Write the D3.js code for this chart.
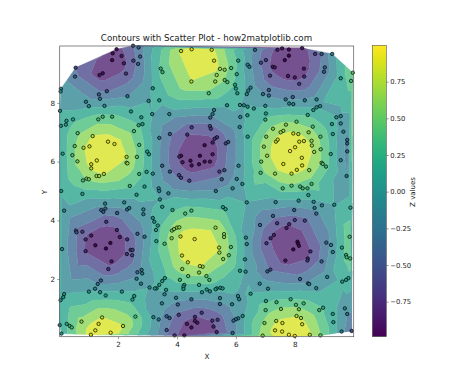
<!DOCTYPE html>
<html>
<head>
<meta charset="utf-8">
<script src="https://cdn.jsdelivr.net/npm/d3@7"></script>
<style>
    body { margin: 0; background: #fff; }
    text { font-family: "DejaVu Sans", sans-serif; fill: #222; }
</style>
</head>
<body>
<div id="vis"></div>
<script>
// scatter points, the contours are triangulated from them
const pointX = [
    2.51,2.70,1.95,1.82,2.12,2.75,1.80,2.52,2.20,2.68,0.56,0.54,1.48,1.37,2.27,1.62,1.35,1.39,2.32,0.06,
    0.05,0.91,1.01,1.54,3.04,3.40,3.18,3.45,3.51,4.14,4.50,4.49,0.03,2.44,3.74,3.16,1.48,1.33,1.80,2.79,
    2.70,2.83,0.25,0.47,0.23,0.06,0.63,1.14,2.54,3.40,3.76,4.50,4.35,1.66,1.88,0.53,0.83,1.03,2.72,0.12,
    0.45,0.62,2.29,2.64,2.99,3.05,1.09,1.09,1.28,2.29,2.32,3.50,3.76,2.97,2.72,3.18,4.07,4.14,4.42,0.81,
    0.93,1.01,1.27,1.36,1.52,2.40,2.90,3.38,4.14,4.08,4.19,4.46,4.50,4.75,
    5.18,5.26,5.46,5.62,5.84,5.35,5.30,5.62,5.71,5.97,6.00,6.05,5.08,6.08,6.03,6.40,6.46,6.65,7.41,7.57,
    7.80,8.25,7.80,7.66,7.02,6.85,7.25,7.32,7.16,8.31,7.77,8.00,8.32,8.15,8.69,8.91,9.27,9.02,8.99,9.56,
    9.91,9.97,6.50,6.42,6.37,7.12,6.92,7.12,7.69,7.93,7.81,7.95,8.34,8.74,5.70,6.14,6.27,6.40,6.61,7.00,
    8.86,8.74,8.63,8.44,5.26,5.21,5.13,6.15,6.39,7.02,7.00,9.41,9.56,9.56,9.26,9.65,9.78,9.78,9.29,8.06,
    7.70,7.26,8.61,7.61,7.52,7.95,8.12,8.47,6.13,5.12,5.15,5.36,5.28,4.94,5.21,5.66,5.74,6.40,7.03,8.87,
    8.57,7.36,7.42,7.84,8.01,8.15,8.31,6.95,8.58,8.88,8.66,9.22,7.06,9.78,8.24,6.86,7.61,8.25,8.07,7.89,
    8.49,7.33,6.84,8.91,8.95,9.06,9.56,9.76,6.09,5.61,5.44,5.52,6.03,6.22,5.89,7.89,8.18,8.27,8.43,8.57,
    7.59,5.21,4.94,5.12,4.78,
    0.07,0.79,2.63,3.40,3.71,3.42,2.21,1.56,0.17,1.43,1.50,1.57,1.97,2.31,2.38,2.86,2.86,3.50,3.85,4.28,
    4.49,3.18,3.23,3.35,3.29,1.60,0.57,0.59,0.79,1.09,0.90,1.96,2.06,2.31,2.66,2.90,3.30,3.58,3.83,3.90,
    4.00,4.08,4.12,3.82,4.60,1.23,1.74,1.59,0.90,0.10,2.30,2.43,2.49,2.48,4.17,1.78,1.67,4.37,4.18,4.75,
    2.66,2.80,2.82,2.63,2.78,4.38,3.59,3.50,3.40,3.31,3.25,3.07,4.10,4.25,4.22,4.22,4.75,1.42,1.31,1.22,
    1.01,1.39,1.58,2.13,2.55,2.49,0.17,0.14,0.05,3.63,3.58,3.97,4.49,3.49,4.03,4.06,3.65,3.75,3.20,3.38,
    2.59,1.46,0.76,0.26,0.36,0.43,1.34,2.17,1.23,1.75,1.08,0.08,3.65,4.61,4.34,4.49,4.61,4.69,3.92,4.25,0.02,
    5.32,6.37,7.35,8.13,8.46,8.64,8.92,8.67,9.34,9.89,5.56,5.65,8.73,7.98,7.26,8.00,8.34,7.40,7.81,6.82,
    7.72,5.31,5.60,5.60,7.29,7.18,7.04,8.09,8.11,8.14,7.95,8.53,9.07,9.23,9.29,9.60,9.86,9.74,9.76,9.88,
    6.34,6.37,5.83,5.43,5.44,5.76,5.57,6.31,8.44,8.43,7.68,8.91,6.14,6.33,7.07,7.17,4.87,4.78,5.00,5.10,
    8.18,9.10,9.82,9.74,9.61,6.81,8.45,8.49,8.73,7.09,5.35,5.47,5.55,5.31,5.01,5.12,4.85,6.50,6.07,6.11,
    5.46,5.46,5.87,7.02,7.38,7.86,8.04,8.30,8.14,7.53,7.01,8.83,8.96,9.70,9.78,9.29,9.31,8.06,8.21,7.37,
    7.58,6.97,8.25,7.33,7.57,7.80,8.51,8.00,6.91,8.87,9.59,9.93,5.89,6.23,6.08,6.00,5.92,5.20,5.38,5.24,5.35,4.84
]
const pointY = [
    9.95,9.89,9.83,9.69,9.60,9.58,9.46,9.44,9.35,9.33,9.20,8.90,9.01,8.95,9.00,8.40,8.29,8.14,8.23,8.48,
    8.39,8.04,7.89,7.90,8.07,8.09,8.50,9.17,9.05,9.77,9.83,8.73,7.73,7.71,7.62,7.62,7.53,7.44,7.53,7.51,
    7.24,7.28,7.39,7.44,7.26,7.22,6.97,6.87,7.04,6.81,6.94,7.17,6.92,6.68,6.60,6.53,6.47,6.52,6.57,6.27,
    6.22,6.01,6.16,6.16,6.34,6.25,5.91,5.77,6.04,5.96,5.94,5.86,5.66,5.65,5.58,5.59,5.54,5.45,5.35,5.36,
    5.42,5.40,5.51,5.51,5.58,5.17,5.15,5.09,6.20,6.17,5.98,6.03,5.87,5.91,
    9.81,9.44,9.16,9.13,9.19,8.95,8.73,8.78,8.71,8.62,8.49,8.33,8.33,9.44,8.98,9.30,9.23,9.81,9.81,9.86,
    9.82,9.87,9.61,9.46,9.46,9.37,9.23,9.21,8.93,9.17,8.92,8.87,8.90,8.65,9.67,9.67,9.67,9.21,9.06,8.84,
    8.75,9.03,8.52,8.42,8.30,8.44,8.30,8.25,8.12,8.20,7.98,7.96,8.09,8.12,7.92,7.93,7.92,7.87,7.81,7.90,
    7.89,7.85,7.76,7.59,7.76,7.62,7.50,7.52,7.58,7.64,7.43,7.51,7.55,7.30,7.28,7.02,6.74,6.62,6.94,7.36,
    7.26,7.12,7.19,7.05,7.00,6.96,6.94,7.00,7.18,7.21,7.12,6.83,6.78,6.56,6.65,6.62,6.67,6.85,6.85,6.85,
    6.71,6.68,6.75,6.36,6.49,6.68,6.70,6.51,6.55,6.42,6.33,6.26,6.20,6.35,6.13,6.00,5.92,5.87,5.72,5.59,
    5.71,5.59,5.62,5.96,5.92,5.83,6.05,5.51,5.86,5.71,5.66,5.40,5.41,5.24,5.09,5.18,5.15,5.09,5.09,5.24,
    5.09,6.25,6.00,6.00,6.20,
    5.00,4.90,4.87,5.00,4.92,4.71,4.61,4.57,4.33,4.35,4.29,4.40,4.25,4.37,4.42,4.37,4.21,4.46,4.35,4.23,
    4.33,4.08,3.95,3.82,3.67,3.95,3.65,3.59,3.61,3.48,3.35,3.67,3.43,3.35,3.54,3.44,3.29,3.20,3.65,3.70,
    3.75,3.76,3.45,3.39,3.36,3.15,3.23,3.04,2.95,3.02,2.85,2.99,2.99,2.81,2.80,2.60,2.34,2.57,2.34,2.22,
    2.23,2.31,2.19,2.01,1.84,2.10,2.03,1.93,1.80,1.68,1.68,1.71,1.97,1.80,1.74,1.66,1.80,1.95,1.83,1.67,
    1.57,1.55,1.44,1.57,1.42,1.30,1.49,1.38,1.28,1.63,1.48,1.36,1.31,1.17,1.13,0.78,0.73,0.67,0.70,0.62,
    0.72,0.69,0.55,0.47,0.40,0.35,0.47,0.40,0.25,0.17,0.10,0.14,0.26,0.71,0.47,0.35,0.57,0.51,0.08,0.08,0.43,
    5.00,4.61,4.62,4.67,4.86,4.63,4.51,4.42,4.53,4.43,4.45,4.38,4.23,4.35,4.15,4.01,3.99,3.90,3.87,3.84,
    3.74,3.75,3.53,3.43,3.50,3.39,3.22,3.27,3.21,3.13,3.01,2.94,3.24,3.16,2.92,3.07,3.44,2.82,2.74,2.70,
    3.41,3.19,3.09,3.07,2.90,2.81,2.68,2.67,2.70,2.63,2.63,2.60,2.28,2.25,2.26,2.32,2.42,2.44,2.10,1.97,
    2.00,2.07,2.03,1.97,1.91,1.84,1.85,1.83,1.69,1.67,1.68,1.70,1.68,1.65,1.64,1.58,1.55,1.50,1.42,1.31,
    1.35,1.15,1.14,1.25,1.21,1.31,1.12,1.17,0.97,0.98,0.94,0.94,1.02,1.00,0.81,0.81,0.53,0.74,0.67,0.57,
    0.50,0.50,0.46,0.25,0.21,0.10,0.10,0.06,0.07,0.08,0.21,0.23,0.16,0.74,0.66,0.63,0.58,0.58,0.61,0.38,0.19,0.85
]
const pointZ = [
    -0.51,-0.38,-0.86,-0.94,-0.84,-0.38,-0.97,-0.58,-0.81,-0.45,-0.51,-0.44,-0.91,-0.87,-0.69,-0.52,-0.41,-0.28,-0.27,-0.04,
    -0.03,-0.15,-0.03,-0.05,-0.02,0.06,0.02,0.29,0.33,0.79,0.90,0.74,0.00,0.08,-0.13,0.00,0.32,0.39,0.31,0.12,
    0.26,0.18,0.11,0.18,0.13,0.04,0.45,0.76,0.42,-0.22,-0.46,-0.62,-0.75,0.92,0.90,0.49,0.73,0.83,0.39,0.12,
    0.43,0.56,0.75,0.47,0.15,0.09,0.83,0.77,0.93,0.71,0.69,-0.32,-0.47,0.14,0.31,-0.03,-0.58,-0.56,-0.57,0.43,
    0.52,0.54,0.68,0.71,0.76,0.30,0.10,-0.09,-0.84,-0.80,-0.83,-0.94,-0.90,-0.93,
    0.83,0.85,0.71,0.58,0.42,0.71,0.63,0.49,0.41,0.21,0.16,0.11,0.43,0.20,0.22,-0.12,-0.18,-0.34,-0.84,-0.87,
    -0.93,-0.83,-0.99,-0.98,-0.67,-0.53,-0.81,-0.84,-0.67,-0.87,-0.86,-0.84,-0.76,-0.68,-0.65,-0.49,-0.13,-0.39,-0.39,0.11,
    0.36,0.48,-0.14,-0.07,-0.04,-0.40,-0.26,-0.28,-0.26,-0.34,-0.12,-0.11,-0.21,-0.17,0.04,0.01,0.00,0.00,0.01,-0.03,
    -0.02,0.00,0.06,0.22,-0.08,-0.20,-0.32,-0.04,0.03,0.14,0.27,0.01,-0.04,-0.07,0.07,-0.16,-0.31,-0.33,0.10,0.46,
    0.58,0.56,0.45,0.70,0.71,0.79,0.77,0.61,-0.09,-0.56,-0.62,-0.69,-0.74,-0.93,-0.82,-0.55,-0.48,0.10,0.56,0.45,
    0.68,0.81,0.81,0.99,0.97,0.88,0.82,0.60,0.72,0.51,0.70,0.21,0.70,-0.35,0.92,0.52,0.90,0.85,0.83,0.77,
    0.67,0.67,0.42,0.47,0.43,0.32,-0.13,-0.24,-0.17,-0.52,-0.61,-0.43,-0.16,-0.03,-0.14,0.45,0.40,0.34,0.31,0.38,
    0.36,-0.88,-0.93,-0.88,-0.99,
    0.02,0.13,0.08,-0.07,-0.11,0.00,-0.08,-0.14,-0.06,-0.35,-0.41,-0.31,-0.41,-0.24,-0.20,-0.09,-0.13,0.09,0.23,0.42,
    0.36,0.02,0.06,0.16,0.13,-0.69,-0.47,-0.50,-0.63,-0.84,-0.76,-0.79,-0.84,-0.72,-0.42,-0.23,0.16,0.42,0.55,0.59,
    0.62,0.66,0.79,0.61,0.97,-0.94,-0.99,-0.99,-0.77,-0.10,-0.72,-0.64,-0.60,-0.58,0.81,-0.84,-0.69,0.79,0.60,0.60,
    -0.28,-0.22,-0.19,-0.21,-0.09,0.47,0.19,0.12,0.06,0.02,0.01,-0.01,0.32,0.20,0.15,0.08,0.23,-0.37,-0.25,-0.09,
    0.00,0.02,0.13,0.00,0.08,0.16,0.01,0.03,0.01,0.03,-0.04,-0.16,-0.25,-0.13,-0.34,-0.57,-0.37,-0.44,-0.05,-0.19,
    0.39,0.76,0.59,0.23,0.32,0.39,0.86,0.76,0.91,0.97,0.88,0.08,-0.47,-0.75,-0.83,-0.92,-0.84,-0.87,-0.70,-0.89,0.01,
    -0.23,-0.01,-0.08,-0.04,0.12,-0.06,-0.10,-0.20,-0.01,0.13,0.17,0.19,-0.29,-0.35,-0.44,-0.63,-0.58,-0.66,-0.75,-0.38,
    -0.82,0.68,0.59,0.60,-0.80,-0.76,-0.69,-0.96,-0.97,-0.96,-0.98,-0.76,-0.35,-0.20,-0.13,0.17,0.41,0.30,0.31,0.40,
    -0.06,-0.09,0.44,0.75,0.73,0.47,0.59,-0.03,-0.76,-0.72,-0.86,-0.42,0.09,-0.03,-0.45,-0.52,0.74,0.76,0.48,0.36,
    -0.40,-0.15,0.17,0.12,0.06,-0.13,-0.23,-0.21,-0.08,-0.07,0.09,0.09,0.07,0.07,0.07,0.01,-0.02,0.02,-0.03,-0.04,
    -0.16,-0.30,-0.17,0.21,0.31,0.26,0.43,0.35,0.54,0.53,0.39,0.33,0.24,-0.15,-0.24,0.09,0.09,0.73,0.73,0.74,
    0.84,0.55,0.83,0.84,0.94,0.99,0.79,0.99,0.59,0.52,-0.16,-0.47,-0.38,-0.04,-0.16,-0.23,-0.30,-0.74,-0.65,-0.80,-0.78,-0.65
]

const levels = [-1, -0.75, -0.5, -0.25, 0, 0.25, 0.5, 0.75, 1]
const xTicks = [2, 4, 6, 8]
const yTicks = [2, 4, 6, 8]
const colorTicks = [-0.75, -0.5, -0.25, 0, 0.25, 0.5, 0.75]

const width = 474
const height = 379

const svg = d3.select("#vis")
    .append("svg")
    .attr("width", width)
    .attr("height", height)

const x = d3.scaleLinear().domain([0.02, 10]).range([59.7, 353.7])
const y = d3.scaleLinear().domain([0.034, 9.94]).range([336.7, 46])
const zColor = d3.scaleSequential(d3.interpolateViridis).domain([-0.99, 0.998])
const bandColor = d3.scaleSequential(d3.interpolateViridis).domain([-1, 1])

// cut a triangle down to one z band (clip below, then above)
function clipPoly(poly, level, keepAbove) {
    const out = []
    for (let i = 0; i < poly.length; i++) {
        const a = poly[i]
        const b = poly[(i + 1) % poly.length]
        const aIn = keepAbove ? a[2] >= level : a[2] <= level
        const bIn = keepAbove ? b[2] >= level : b[2] <= level
        if (aIn) out.push(a)
        if (aIn !== bIn) {
            const t = (level - a[2]) / (b[2] - a[2])
            out.push([a[0] + t * (b[0] - a[0]), a[1] + t * (b[1] - a[1]), level])
        }
    }
    return out
}

const px = pointX.map(d => x(d))
const py = pointY.map(d => y(d))
const delaunay = d3.Delaunay.from(px.map((d, i) => [d, py[i]]))
const tris = delaunay.triangles

const contourG = svg.append("g").attr("opacity", 0.75)

for (let b = 0; b < levels.length - 1; b++) {
    const path = d3.path()
    for (let t = 0; t < tris.length; t += 3) {
        let poly = [tris[t], tris[t + 1], tris[t + 2]].map(i => [px[i], py[i], pointZ[i]])
        poly = clipPoly(poly, levels[b], true)
        if (poly.length) poly = clipPoly(poly, levels[b + 1], false)
        if (poly.length < 3) continue
        path.moveTo(poly[0][0], poly[0][1])
        poly.slice(1).forEach(p => path.lineTo(p[0], p[1]))
        path.closePath()
    }
    const c = bandColor((levels[b] + levels[b + 1]) / 2)
    contourG.append("path")
        .attr("d", path.toString())
        .attr("fill", c)
        .attr("stroke", c)
        .attr("stroke-width", 0.4)
        .attr("stroke-linejoin", "round")
}

// scatter on top
svg.selectAll("circle.pt")
    .data(d3.range(pointX.length))
    .join("circle")
    .attr("class", "pt")
    .attr("cx", i => px[i])
    .attr("cy", i => py[i])
    .attr("r", 1.7)
    .attr("fill", i => zColor(pointZ[i]))
    .attr("stroke", "#000")
    .attr("stroke-width", 0.7)

// axes
const xAxis = svg.append("g")
    .attr("transform", "translate(0,336.7)")
    .call(d3.axisBottom(x).tickValues(xTicks).tickSize(2.5).tickFormat(d3.format("d")))
const yAxis = svg.append("g")
    .attr("transform", "translate(59.7,0)")
    .call(d3.axisLeft(y).tickValues(yTicks).tickSize(2.5).tickFormat(d3.format("d")))
xAxis.selectAll("text").attr("font-size", 7.2).attr("y", 5)
yAxis.selectAll("text").attr("font-size", 7.2).attr("x", -4.5)
svg.selectAll(".domain").remove()
svg.selectAll(".tick line").attr("stroke", "#444").attr("stroke-width", 0.5)

svg.append("rect")
    .attr("x", 59.7).attr("y", 46)
    .attr("width", 294).attr("height", 290.7)
    .attr("fill", "none")
    .attr("stroke", "#555")
    .attr("stroke-width", 0.7)

svg.append("text")
    .attr("x", 206.5).attr("y", 41)
    .attr("text-anchor", "middle")
    .attr("font-size", 8.7)
    .text("Contours with Scatter Plot - how2matplotlib.com")
svg.append("text")
    .attr("x", 207).attr("y", 359)
    .attr("text-anchor", "middle")
    .attr("font-size", 7.2)
    .text("X")
svg.append("text")
    .attr("transform", "translate(46.5,192) rotate(-90)")
    .attr("text-anchor", "middle")
    .attr("font-size", 7.2)
    .text("Y")

// colorbar
const cb = d3.scaleLinear().domain([-0.989, 0.998]).range([336.7, 45.3])
const grad = svg.append("defs").append("linearGradient")
    .attr("id", "viridis")
    .attr("x1", 0).attr("x2", 0).attr("y1", 1).attr("y2", 0)
grad.selectAll("stop")
    .data(d3.range(0, 1.001, 0.05))
    .join("stop")
    .attr("offset", d => d)
    .attr("stop-color", d => d3.interpolateViridis(d))
svg.append("rect")
    .attr("x", 372.3).attr("y", 45.3)
    .attr("width", 14).attr("height", 291.4)
    .attr("fill", "url(#viridis)")
    .attr("stroke", "#555")
    .attr("stroke-width", 0.6)
const cbAxis = svg.append("g")
    .attr("transform", "translate(386.3,0)")
    .call(d3.axisRight(cb).tickValues(colorTicks).tickSize(2.5).tickFormat(d3.format(".2f")))
cbAxis.select(".domain").remove()
cbAxis.selectAll(".tick line").attr("stroke", "#444").attr("stroke-width", 0.5)
cbAxis.selectAll("text").attr("font-size", 6.8).attr("x", 4)
svg.append("text")
    .attr("transform", "translate(415,192) rotate(-90)")
    .attr("text-anchor", "middle")
    .attr("font-size", 7)
    .text("Z values")
</script>
</body>
</html>
